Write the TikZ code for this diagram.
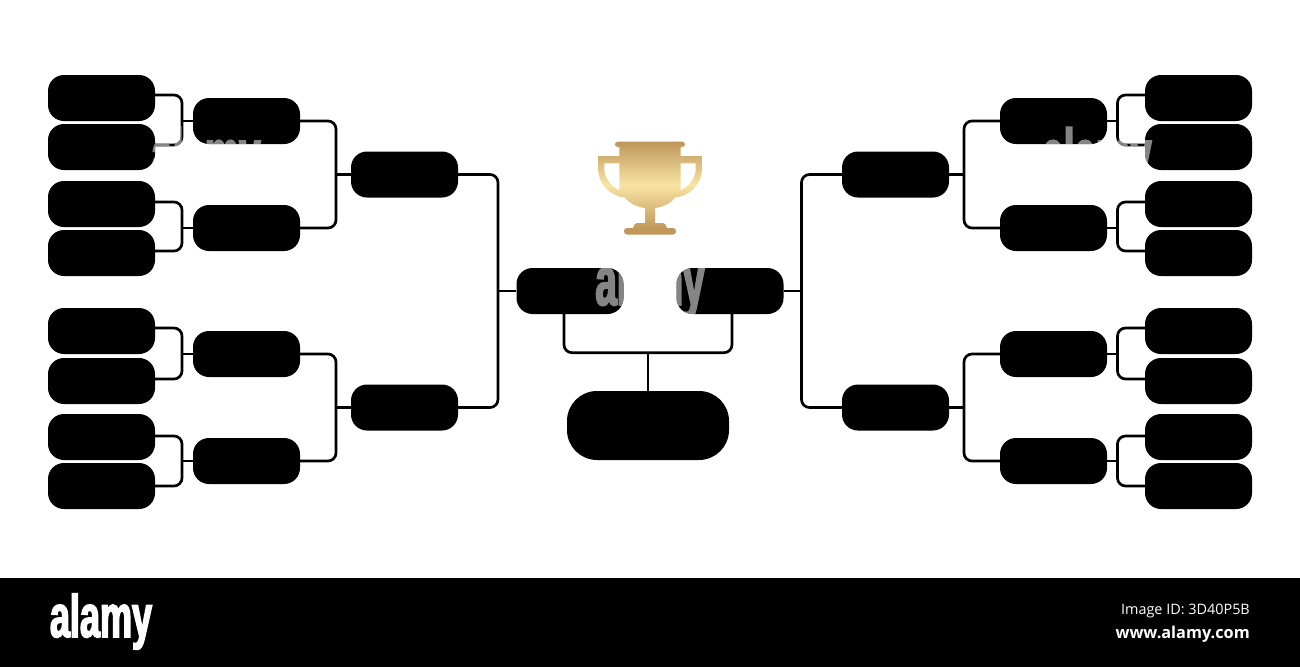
\documentclass[tikz,border=0pt]{standalone}
\usepackage{fontspec}
\setmainfont{Open Sans}
\newfontfamily\wmfont{Liberation Sans}[UprightFont=* Bold,FakeStretch=0.55,FakeBold=2.5]
\newfontfamily\logofont{Liberation Sans}[UprightFont=* Bold,FakeStretch=0.6,FakeBold=2.5]
\usetikzlibrary{calc}
\definecolor{goldB}{HTML}{C1975A}
\definecolor{goldL}{HTML}{F8E4A4}
\definecolor{goldT}{HTML}{BE965A}
\definecolor{wmgray}{HTML}{858585}
\pgfdeclareverticalshading{goldcup}{100bp}{
  color(0bp)=(goldB); color(28bp)=(goldB); color(51.7bp)=(goldL); color(75bp)=(goldT); color(100bp)=(goldT)}
\tikzset{
  x=1pt,y=-1pt,
  teambox/.style={fill=black,draw=none,rounded corners=16pt,minimum width=107pt,minimum height=46pt,inner sep=0pt},
  finalbox/.style={fill=black,draw=none,rounded corners=30pt,minimum width=162pt,minimum height=69pt,inner sep=0pt},
  conn/.style={draw=black,line width=2.7pt,rounded corners=8pt},
  stub/.style={draw=black,line width=2.7pt},
  wmark/.style={text=wmgray,inner sep=0pt,anchor=base,font=\wmfont\fontsize{70pt}{70pt}\selectfont},
}
\begin{document}
\begin{tikzpicture}
\useasboundingbox (0,0) rectangle (1300,667);
\fill[white] (0,0) rectangle (1300,667);
\fill[black] (0,578) rectangle (1300,667);

% first round, both sides
\foreach \n/\y in {a/98,b/147,c/204,d/253,e/331,f/381,g/437,h/486}{
  \node[teambox] (l1\n) at (101.5,\y) {};
  \node[teambox] (r1\n) at (1198.5,\y) {};
}
% second round
\foreach \n/\y in {a/121,b/228,c/354,d/461}{
  \node[teambox] (l2\n) at (246.5,\y) {};
  \node[teambox] (r2\n) at (1053.5,\y) {};
}
% third round
\foreach \n/\y in {a/174.5,b/407.5}{
  \node[teambox] (l3\n) at (404.5,\y) {};
  \node[teambox] (r3\n) at (895.5,\y) {};
}
\node[teambox] (sfl) at (570,291) {};
\node[teambox] (sfr) at (730,291) {};
\node[finalbox] (final) at (648,425.5) {};

% round 1 to round 2
\foreach \p/\q/\t/\su/\sv in {a/b/a/3/2,c/d/b/2/2,e/f/c/3/2,g/h/d/1/0}{
  \coordinate (jl) at (182,0 |- l2\t.west);
  \coordinate (jr) at (1117.5,0 |- r2\t.east);
  \draw[conn] ([yshift=\su pt]l1\p.east) -| (jl) |- ([yshift=\sv pt]l1\q.east);
  \draw[stub] (jl) -- (l2\t.west);
  \draw[conn] ([yshift=\su pt]r1\p.west) -| (jr) |- ([yshift=\sv pt]r1\q.west);
  \draw[stub] (jr) -- (r2\t.east);
}
% round 2 to round 3
\foreach \p/\q/\t in {a/b/a,c/d/b}{
  \coordinate (jl) at (336,0 |- l3\t.west);
  \coordinate (jr) at (964,0 |- r3\t.east);
  \draw[conn] (l2\p.east) -| (jl) |- (l2\q.east);
  \draw[stub] (jl) -- (l3\t.west);
  \draw[conn] (r2\p.west) -| (jr) |- (r2\q.west);
  \draw[stub] (jr) -- (r3\t.east);
}
% round 3 to semi-finals
\coordinate (jl) at (498,0 |- sfl.west);
\coordinate (jr) at (801.5,0 |- sfr.east);
\draw[conn] (l3a.east) -| (jl) |- (l3b.east);
\draw[stub] (jl) -- (sfl.west);
\draw[conn] (r3a.west) -| (jr) |- (r3b.west);
\draw[stub] (jr) -- (sfr.east);
% semi-finals to final
\coordinate (fj) at (648,352.7);
\draw[conn] (564,0 |- sfl.south) |- (fj) -| (732,0 |- sfr.south);
\draw[stub] (fj) -- (final.north);

% watermark, seen only on the black shapes
\begin{scope}[blend mode=lighten]
  \node[wmark] (wm1) at (650,305) {alamy};
  \node[wmark] (wm2) at (206,178) {alamy};
  \node[wmark] (wm3) at (1097,178) {alamy};
\end{scope}

% trophy
\path[shade,shading=goldcup,even odd rule]
  (618,141.7) -- (682,141.7) .. controls (684,141.7) and (685,143) .. (685,144.4)
  .. controls (685,146) and (684,147) .. (682,147) -- (680.7,147) -- (680.7,156)
  -- (702,156) -- (702,168) .. controls (702,184) and (690,196) .. (675,197.7)
  .. controls (670,204) and (663,207) .. (655,208) -- (655,223) -- (663,223)
  .. controls (665,223) and (666,225) .. (667,228) -- (673,228)
  .. controls (675,228) and (676,229.5) .. (676,231.2) .. controls (676,233) and (675,234.5) .. (673,234.5)
  -- (627,234.5) .. controls (625,234.5) and (624,233) .. (624,231.2)
  .. controls (624,229.5) and (625,228) .. (627,228) -- (633,228)
  .. controls (634,225) and (635,223) .. (637,223) -- (645,223) -- (645,208)
  .. controls (637,207) and (630,204) .. (625,197.7)
  .. controls (610,196) and (598,184) .. (598,168) -- (598,156) -- (619.3,156)
  -- (619.3,147) -- (618,147) .. controls (616,147) and (615,146) .. (615,144.4)
  .. controls (615,143) and (616,141.7) .. (618,141.7) -- cycle
  (680.7,163.3) -- (695.7,163.3) -- (695.7,170) .. controls (695,178) and (689,187) .. (680.7,190) -- cycle
  (619.3,163.3) -- (604.3,163.3) -- (604.3,170) .. controls (605,178) and (611,187) .. (619.3,190) -- cycle;

% footer
\node[text=white,inner sep=0pt,anchor=base,font=\logofont\fontsize{60pt}{60pt}\selectfont] (logo) at (101,637) {alamy};
\node[text=white,inner sep=0pt,anchor=base east,font=\fontsize{14.4pt}{14.4pt}\selectfont] (imgid) at (1250,614) {Image ID: 3D40P5B};
\node[text=white,inner sep=0pt,anchor=base east,font=\bfseries\fontsize{16.3pt}{16.3pt}\selectfont] (site) at (1250,638) {www.alamy.com};
\end{tikzpicture}
\end{document}
